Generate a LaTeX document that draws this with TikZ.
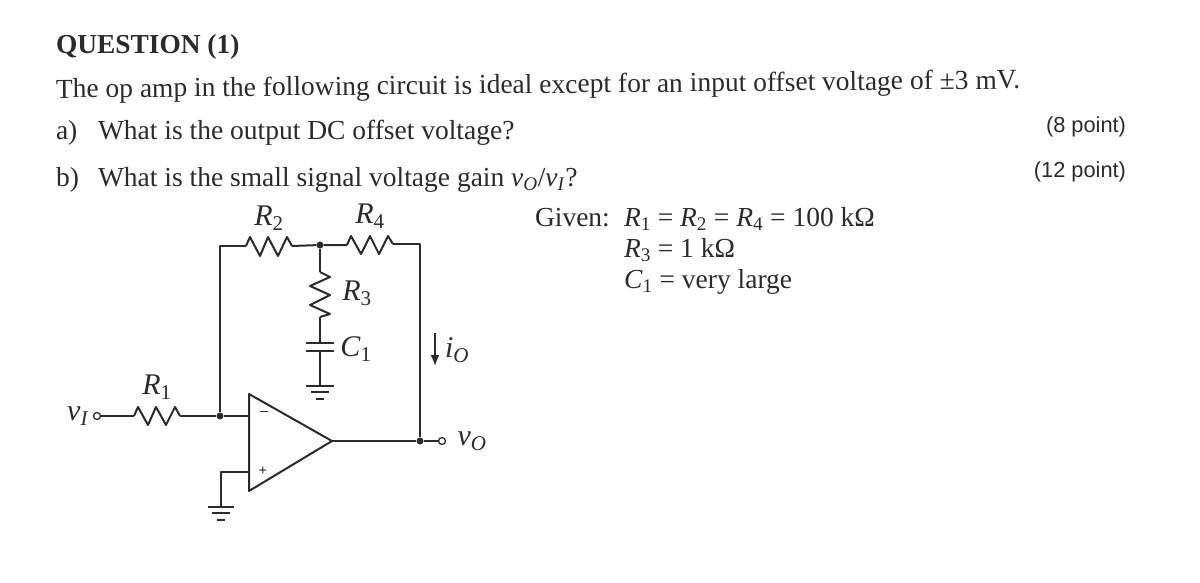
\documentclass[tikz,border=0pt]{standalone}
\usepackage{fontspec}
\usetikzlibrary{arrows.meta}
\setmainfont{Liberation Serif}
\newfontfamily\arialf{Liberation Sans}
\definecolor{ink}{HTML}{2B2B2B}
\newcommand{\fs}[1]{\fontsize{#1}{#1}\selectfont}
\newcommand{\sbi}[1]{\textsubscript{\textit{#1}}}
\newcommand{\sbu}[1]{\textsubscript{#1}}
\begin{document}
\begin{tikzpicture}[x=1pt,y=-1pt,
  txt/.style={anchor=base west,inner sep=0pt,outer sep=0pt,text=ink,font=\fs{27.5}},
  side/.style={anchor=base east,inner sep=0pt,outer sep=0pt,text=ink,font=\arialf\fs{21.8}},
  lbl/.style={inner sep=0pt,outer sep=0pt,text=ink,font=\fs{30}},
  wire/.style={draw=ink,line width=2pt,line join=round},
  dotj/.style={circle,fill=ink,draw=none,minimum size=7pt,inner sep=0pt},
  term/.style={circle,draw=ink,fill=white,line width=1.3pt,minimum size=7pt,inner sep=0pt}]
\useasboundingbox (0,0) rectangle (1200,582);
% text
\node[txt,font=\bfseries\fs{27.4}] (qt) at (56,53) {QUESTION (1)};
\node[txt,rotate=0.55] (intro) at (56,98) {The op amp in the following circuit is ideal except for an input offset voltage of ±3 mV.};
\node[txt] (ql1) at (56,139) {a)};
\node[txt] (qa) at (98,139) {What is the output DC offset voltage?};
\node[txt] (ql2) at (56,186) {b)};
\node[txt] (qb) at (98,186) {What is the small signal voltage gain \textit{v}\sbi{O}/\textit{v}\sbi{I}?};
\node[side] (pa) at (1126,132) {(8 point)};
\node[side] (pb) at (1126,177) {(12 point)};
\node[txt] (gv) at (535,226) {Given:};
\node[txt] (g1) at (624,226) {\textit{R}\sbu{1} = \textit{R}\sbu{2} = \textit{R}\sbu{4} = 100 kΩ};
\node[txt] (g2) at (624,257) {\textit{R}\sbu{3} = 1 kΩ};
\node[txt] (g3) at (624,288) {\textit{C}\sbu{1} = very large};
% labels
\node[lbl] (lr1) at (157,387) {\textit{R}\sbu{1}};
\node[lbl] (lr2) at (269,218) {\textit{R}\sbu{2}};
\node[lbl] (lr4) at (370,216) {\textit{R}\sbu{4}};
\node[lbl] (lr3) at (357,293) {\textit{R}\sbu{3}};
\node[lbl] (lc1) at (356,349) {\textit{C}\sbu{1}};
\node[lbl] (lio) at (457,350) {\textit{i}\sbi{O}};
\node[lbl] (lvi) at (78,416) {\textit{v}\sbi{I}};
\node[lbl] (lvo) at (472,441) {\textit{v}\sbi{O}};
% circuit points
\coordinate (c2) at (220,246);
\coordinate (c4) at (420,244);
\coordinate (r2a) at (246,246);
\coordinate (r2b) at (292,246);
\coordinate (r4a) at (347,245);
\coordinate (r4b) at (393,244);
\coordinate (r3a) at (320,272);
\coordinate (r3b) at (320,317);
\coordinate (r1a) at (134,416);
\coordinate (r1b) at (180,416);
\coordinate (cpt) at (320,343);
\coordinate (cpb) at (320,351);
\coordinate (g1t) at (320,386);
\coordinate (g2t) at (221,507);
\coordinate (pin) at (221,472);
\coordinate (ampn) at (249,416);
\coordinate (ampp) at (249,472);
\coordinate (ampo) at (332,441);
\coordinate (atop) at (249,394);
\coordinate (abot) at (249,491);
\coordinate (arrt) at (435,333);
\coordinate (arrb) at (435,366);
\node[dotj] (j1) at (320,245) {};
\node[dotj] (j2) at (220,416) {};
\node[dotj] (j3) at (420,441) {};
\node[term] (ti) at (97,416) {};
\node[term] (to) at (442,441) {};
% wires
\draw[wire] (j2) -- (c2) -- (r2a);
\draw[wire] (r2b) -- (j1) -- (r4a);
\draw[wire] (r4b) -- (c4) -- (j3);
\draw[wire] (j1) -- (r3a);
\draw[wire] (r3b) -- (cpt);
\draw[wire] (cpb) -- (g1t);
\draw[wire] (ti) -- (r1a);
\draw[wire] (r1b) -- (j2) -- (ampn);
\draw[wire] (ampo) -- (j3) -- (to);
\draw[wire] (ampp) -- (pin) -- (g2t);
% resistors
\draw[wire] (r2a) -- ++(4,-9) -- ++(10,19) -- ++(8,-19) -- ++(10,19) -- ++(9,-19) -- (r2b);
\draw[wire] (r4a) -- ++(4,-9) -- ++(10,18) -- ++(9,-18) -- ++(9,18) -- ++(9,-18) -- (r4b);
\draw[wire] (r1a) -- ++(4,-9) -- ++(10,18) -- ++(8,-18) -- ++(10,18) -- ++(9,-18) -- (r1b);
\draw[wire] (r3a) -- ++(10,5) -- ++(-20,9) -- ++(20,9) -- ++(-20,10) -- ++(20,9) -- (r3b);
% capacitor
\draw[wire] ([xshift=-14pt]cpt) -- ([xshift=14pt]cpt);
\draw[wire] ([xshift=-14pt]cpb) -- ([xshift=14pt]cpb);
% grounds
\draw[wire] ([xshift=-14pt]g1t) -- ([xshift=14pt]g1t);
\draw[wire] ([shift={(-9pt,-6pt)}]g1t) -- ([shift={(9pt,-6pt)}]g1t);
\draw[wire] ([shift={(-4pt,-13pt)}]g1t) -- ([shift={(4pt,-13pt)}]g1t);
\draw[wire] ([xshift=-13pt]g2t) -- ([xshift=13pt]g2t);
\draw[wire] ([shift={(-9pt,-6pt)}]g2t) -- ([shift={(9pt,-6pt)}]g2t);
\draw[wire] ([shift={(-4pt,-13pt)}]g2t) -- ([shift={(4pt,-13pt)}]g2t);
% op amp
\draw[wire] (atop) -- (ampo) -- (abot) -- cycle;
\node[inner sep=0pt,text=ink,font=\bfseries\fs{15}] (minus) at (264,413) {–};
\node[inner sep=0pt,text=ink,font=\bfseries\fs{15}] (plus) at (263,471) {+};
% current arrow
\draw[draw=ink,line width=1.8pt,-{Latex[length=11pt,width=9pt]}] (arrt) -- (arrb);
\end{tikzpicture}
\end{document}
